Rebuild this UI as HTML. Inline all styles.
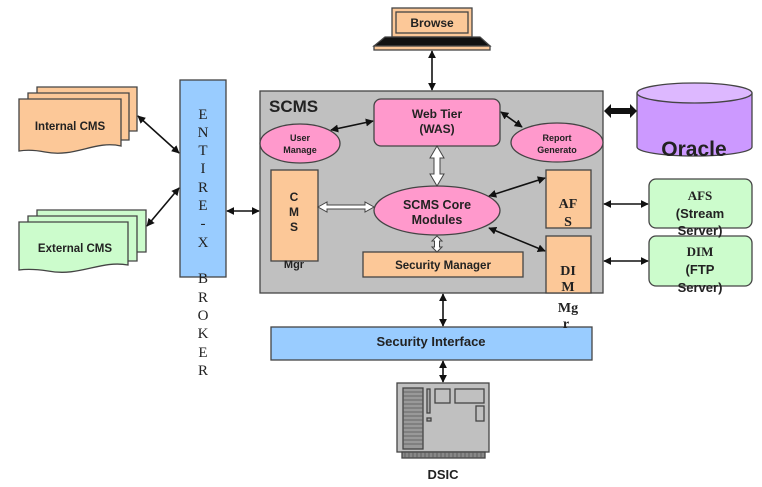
<!DOCTYPE html>
<html><head><meta charset="utf-8"><style>
html,body{margin:0;padding:0;background:#fff;}
svg{display:block;}
text{font-family:"Liberation Sans",Arial,sans-serif;font-weight:bold;fill:#222;}
.s{font-family:"Liberation Serif",serif;}
</style></head><body>
<svg width="762" height="487" viewBox="0 0 762 487" xmlns="http://www.w3.org/2000/svg">
<defs>
<marker id="a" viewBox="0 0 10 10" refX="9" refY="5" markerWidth="5" markerHeight="5" orient="auto-start-reverse"><path d="M0,0 L10,5 L0,10 z" fill="#111"/></marker>
</defs>
<g stroke="#444" stroke-width="1.3">
<!-- Internal CMS -->
<path d="M37,87 H137 V131 H37 Z" fill="#fcc898"/>
<path d="M28,93 H129 V140 H28 Z" fill="#fcc898"/>
<path d="M19,99 H121 V146 C95,140 75,158 45,152 C35,150 25,150 19,151 Z" fill="#fcc898"/>
<!-- External CMS -->
<path d="M37,210 H146 V252 H37 Z" fill="#ccfccc"/>
<path d="M28,216 H137 V261 H28 Z" fill="#ccfccc"/>
<path d="M19,222 H128 V265 C100,260 80,277 48,271 C35,269 26,269 19,270 Z" fill="#ccfccc"/>
<!-- Entire-X -->
<rect x="180" y="80" width="46" height="197" fill="#99ccff"/>
<!-- SCMS box -->
<rect x="260" y="91" width="343" height="202" fill="#c0c0c0"/>
<!-- Oracle -->
<path d="M637,93 V147 A57.5,9 0 0 0 752,147 V93" fill="#cc99ff"/>
<ellipse cx="694.5" cy="93" rx="57.5" ry="10" fill="#ddb8ff"/>
<!-- laptop -->
<rect x="392" y="8" width="80" height="29" fill="#fcc898"/>
<rect x="396" y="12" width="72" height="21" fill="#fcc898"/>
<path d="M385,37 H480 L490,46 H374 Z" fill="#111"/>
<rect x="374" y="46" width="116" height="4" fill="#fcc898"/>
<!-- inner -->
<rect x="374" y="99" width="126" height="47" rx="7" fill="#ff99cc"/>
<ellipse cx="300" cy="143.5" rx="40" ry="19.5" fill="#ff99cc"/>
<ellipse cx="557" cy="142.5" rx="46" ry="19.5" fill="#ff99cc"/>
<rect x="271" y="170" width="47" height="91" fill="#fcc898"/>
<ellipse cx="437" cy="210.5" rx="63" ry="24.5" fill="#ff99cc"/>
<rect x="363" y="252" width="160" height="25" fill="#fcc898"/>
<rect x="546" y="170" width="45" height="58" fill="#fcc898"/>
<rect x="546" y="236" width="45" height="57" fill="#fcc898"/>
<!-- green servers -->
<rect x="649" y="179" width="103" height="49" rx="7" fill="#ccfccc"/>
<rect x="649" y="236" width="103" height="50" rx="7" fill="#ccfccc"/>
<!-- Security interface -->
<rect x="271" y="327" width="321" height="33" fill="#99ccff"/>
<!-- DSIC -->
<rect x="397" y="383" width="92" height="69" fill="#c0c0c0"/>
<rect x="402" y="452" width="83" height="6" fill="#888"/>
<rect x="403" y="388" width="20" height="61" fill="#999"/>
<rect x="427" y="389" width="3" height="24" fill="#aaa"/>
<rect x="427" y="418" width="4" height="3" fill="#aaa"/>
<rect x="435" y="389" width="15" height="14" fill="#c0c0c0"/>
<rect x="455" y="389" width="29" height="14" fill="#c0c0c0"/>
<rect x="476" y="406" width="8" height="15" fill="#c0c0c0"/>
</g>
<g stroke="#555" stroke-width="0.8">
<path d="M403,392H423M403,396H423M403,400H423M403,404H423M403,408H423M403,412H423M403,416H423M403,420H423M403,424H423M403,428H423M403,432H423M403,436H423M403,440H423M403,444H423"/>
<path d="M405,452v6M409,452v6M413,452v6M417,452v6M421,452v6M425,452v6M429,452v6M433,452v6M437,452v6M441,452v6M445,452v6M449,452v6M453,452v6M457,452v6M461,452v6M465,452v6M469,452v6M473,452v6M477,452v6M481,452v6"/>
</g>
<!-- arrows -->
<g stroke="#111" stroke-width="1.6" marker-start="url(#a)" marker-end="url(#a)">
<line x1="432" y1="51" x2="432" y2="90"/>
<line x1="138" y1="116" x2="179" y2="153"/>
<line x1="147" y1="226" x2="179" y2="188"/>
<line x1="227" y1="211" x2="259" y2="211"/>
<line x1="331" y1="130" x2="373" y2="121"/>
<line x1="501" y1="112" x2="522" y2="127"/>
<line x1="489" y1="196" x2="545" y2="178"/>
<line x1="489" y1="228" x2="545" y2="251"/>
<line x1="604" y1="204" x2="648" y2="204"/>
<line x1="604" y1="261" x2="648" y2="261"/>
<line x1="443" y1="294" x2="443" y2="326"/>
<line x1="443" y1="361" x2="443" y2="382"/>
</g>
<path d="M604,111 L611,104 V108 H630 V104 L637,111 L630,118 V114 H611 V118 Z" fill="#111"/>
<!-- hollow arrows -->
<g fill="#fff" stroke="#444" stroke-width="1">
<path d="M437,146 L444,158 H440 V174 H444 L437,186 L430,174 H434 V158 H430 Z"/>
<path d="M318,207 L327,202 V205 H365 V202 L374,207 L365,212 V209 H327 V212 Z"/>
<path d="M437,236 L442,241 H439.5 V247 H442 L437,252 L432,247 H434.5 V241 H432 Z"/>
</g>
<!-- text -->
<text x="70" y="130" font-size="11.5" text-anchor="middle">Internal CMS</text>
<text x="75" y="252" font-size="11.5" text-anchor="middle">External CMS</text>
<g class="s" font-size="15" text-anchor="middle" fill="#333">
<text class="s" x="203" y="119" style="font-weight:normal">E</text>
<text class="s" x="203" y="137" style="font-weight:normal">N</text>
<text class="s" x="203" y="155" style="font-weight:normal">T</text>
<text class="s" x="203" y="173" style="font-weight:normal">I</text>
<text class="s" x="203" y="192" style="font-weight:normal">R</text>
<text class="s" x="203" y="210" style="font-weight:normal">E</text>
<text class="s" x="203" y="228" style="font-weight:normal">-</text>
<text class="s" x="203" y="247" style="font-weight:normal">X</text>
<text class="s" x="203" y="283" style="font-weight:normal">B</text>
<text class="s" x="203" y="302" style="font-weight:normal">R</text>
<text class="s" x="203" y="320" style="font-weight:normal">O</text>
<text class="s" x="203" y="338" style="font-weight:normal">K</text>
<text class="s" x="203" y="357" style="font-weight:normal">E</text>
<text class="s" x="203" y="375" style="font-weight:normal">R</text>
</g>
<text x="432" y="27" font-size="12" text-anchor="middle">Browse</text>
<text x="269" y="112" font-size="17">SCMS</text>
<text x="437" y="118" font-size="12" text-anchor="middle">Web Tier</text>
<text x="437" y="133" font-size="12" text-anchor="middle">(WAS)</text>
<text x="300" y="141" font-size="9" text-anchor="middle">User</text>
<text x="300" y="153" font-size="9" text-anchor="middle">Manage</text>
<text x="557" y="141" font-size="9" text-anchor="middle">Report</text>
<text x="557" y="153" font-size="9" text-anchor="middle">Generato</text>
<text x="294" y="201" font-size="12" text-anchor="middle">C</text>
<text x="294" y="216" font-size="12" text-anchor="middle">M</text>
<text x="294" y="231" font-size="12" text-anchor="middle">S</text>
<text x="294" y="268" font-size="11" text-anchor="middle">Mgr</text>
<text x="437" y="209" font-size="12.5" text-anchor="middle">SCMS Core</text>
<text x="437" y="224" font-size="12.5" text-anchor="middle">Modules</text>
<text x="443" y="269" font-size="11.5" text-anchor="middle">Security Manager</text>
<text class="s" x="568" y="208" font-size="14" text-anchor="middle">AF</text>
<text class="s" x="568" y="226" font-size="14" text-anchor="middle">S</text>
<text class="s" x="568" y="275" font-size="14" text-anchor="middle">DI</text>
<text class="s" x="568" y="291" font-size="14" text-anchor="middle">M</text>
<text class="s" x="568" y="312" font-size="14" text-anchor="middle">Mg</text>
<text class="s" x="566" y="328" font-size="14" text-anchor="middle">r</text>
<text x="694" y="156" font-size="21" text-anchor="middle" fill="#111">Oracle</text>
<text class="s" x="700" y="200" font-size="13" text-anchor="middle">AFS</text>
<text x="700" y="218" font-size="13" text-anchor="middle">(Stream</text>
<text x="700" y="235" font-size="13" text-anchor="middle">Server)</text>
<text class="s" x="700" y="256" font-size="13" text-anchor="middle">DIM</text>
<text x="700" y="274" font-size="13" text-anchor="middle">(FTP</text>
<text x="700" y="292" font-size="13" text-anchor="middle">Server)</text>
<text x="431" y="346" font-size="13" text-anchor="middle">Security Interface</text>
<text x="443" y="479" font-size="13" text-anchor="middle">DSIC</text>
</svg>
</body></html>
